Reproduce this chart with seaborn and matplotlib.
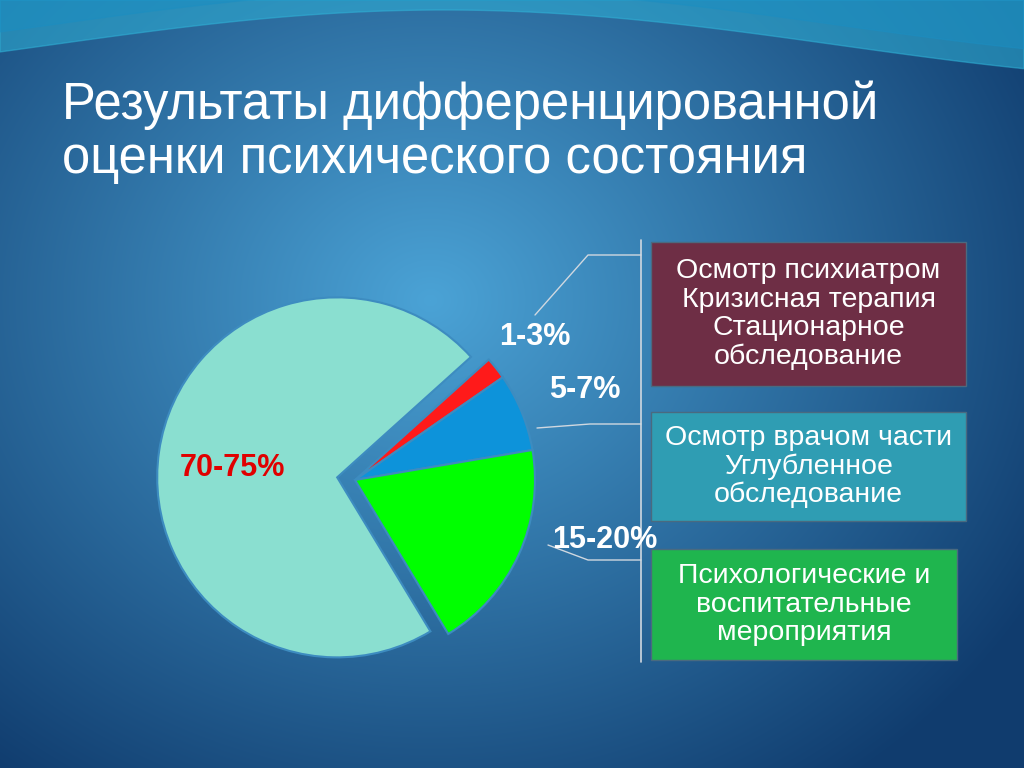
import numpy as np
import matplotlib.pyplot as plt
import seaborn as sns
from matplotlib.patches import Rectangle

sns.set_theme(style="white")
plt.rcParams['font.family'] = ['Liberation Sans', 'DejaVu Sans']

# данные
labels = ["70-75%", "1-3%", "5-7%", "15-20%"]
values = [72, 2, 7, 19]
colors = ["#8ADFD0", "#FF1A1A", "#0D93DA", "#00FF00"]
label_colors = ["#E00000", "white", "white", "white"]
box_texts = ["Осмотр психиатром\nКризисная терапия\nСтационарное\nобследование",
             "Осмотр врачом части\nУглубленное\nобследование",
             "Психологические и\nвоспитательные\nмероприятия"]
box_colors = ["#6E2E45", "#2F9DB3", "#1FB54E"]

W, H = 1024, 768
fig = plt.figure(figsize=(W / 100, H / 100), dpi=100)

# фон: радиальный градиент
bg = fig.add_axes([0, 0, 1, 1])
yy, xx = np.mgrid[0:H, 0:W]
r = np.sqrt(((xx - 430) / 700) ** 2 + ((yy - 300) / 600) ** 2)
c0 = np.array([0x4B, 0xA3, 0xD6]) / 255
c1 = np.array([0x10, 0x3C, 0x6E]) / 255
t = np.clip(r, 0, 1)[..., None]
img = c0 * (1 - t) + c1 * t
bg.imshow(img, extent=[0, W, H, 0], aspect='auto')
# волна сверху
xs = np.linspace(0, W, 300)
wave = 45 - 35 * np.sin((xs - 50) / W * np.pi * 1.3)
bg.fill_between(xs, 0, wave, color="#2FB3D8", alpha=0.55)
bg.fill_between(xs, 0, wave - 20, color="#1B8EC2", alpha=0.5)
bg.set_xlim(0, W); bg.set_ylim(H, 0); bg.axis('off')

bg.text(62, 105, "Результаты дифференцированной", color="white", fontsize=36.5, va='center')
bg.text(62, 160, "оценки психического состояния", color="white", fontsize=36.5, va='center')

# соединительные линии
lc = "#D0D8E0"
bg.plot([641, 641], [240, 662], color=lc, lw=1.2)
bg.plot([535, 588, 641], [315, 255, 255], color=lc, lw=1)
bg.plot([537, 590, 641], [428, 424, 424], color=lc, lw=1)
bg.plot([548, 588, 641], [545, 560, 560], color=lc, lw=1)

# блоки справа
boxes = [(651, 242, 315, 144), (651, 412, 315, 109), (651, 549, 306, 111)]
for (x, y, w, h), txt, col in zip(boxes, box_texts, box_colors):
    bg.add_patch(Rectangle((x, y), w, h, facecolor=col, edgecolor="#4A6A80", lw=1))
    bg.text(x + w / 2, y + h / 2, txt, color="white", fontsize=20.5, ha='center', va='center',
            linespacing=1.12)

# круговая диаграмма
ax = fig.add_axes([(355 - 200) / W, (H - 480 - 200) / H, 400 / W, 400 / H])
ax.pie(values, colors=colors, startangle=42 + 360 * 72 / 100, counterclock=False,
       explode=[0.09, 0, 0, 0], radius=0.9, center=(0, 0),
       wedgeprops=dict(edgecolor="#3D8CC0", linewidth=1.5))
ax.set_xlim(-1, 1); ax.set_ylim(-1, 1); ax.set_aspect('auto'); ax.axis('off')

# подписи (поверх диаграммы)
label_pos = [(232, 468), (535, 337), (585, 390), (605, 540)]
for lab, (x, y), c in zip(labels, label_pos, label_colors):
    fig.text(x / W, 1 - y / H, lab, color=c, fontsize=22, fontweight='bold',
             ha='center', va='center', zorder=10)

fig.savefig("out.png", dpi=100)
